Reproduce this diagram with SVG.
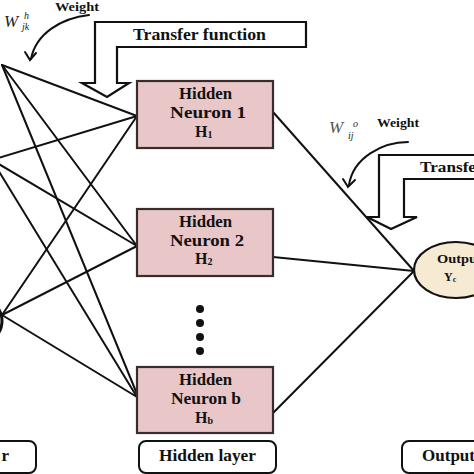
<svg xmlns="http://www.w3.org/2000/svg" width="474" height="474" viewBox="0 0 474 474">
<style>
.bg{fill:#ffffff}
.ln{stroke:#111;stroke-width:2;fill:none;stroke-linecap:round}
.hid{fill:#e9c6c7;stroke:#3b2b2b;stroke-width:2.2}
.tf{fill:#ffffff;stroke:#111;stroke-width:2.2;stroke-linejoin:miter}
.lab{fill:#ffffff;stroke:#111;stroke-width:2}
.t{font-family:"Liberation Serif","Times New Roman",serif;font-weight:bold;fill:#111}
.it{font-family:"Liberation Serif","Times New Roman",serif;font-style:italic;fill:#222}
.dot{fill:#111}
</style>
<rect class="bg" x="0" y="0" width="474" height="474"/>

<g id="connectors">
  <line class="ln" x1="2" y1="65" x2="137" y2="116"/>
  <line class="ln" x1="2" y1="65" x2="137" y2="246"/>
  <line class="ln" x1="2" y1="65" x2="137" y2="394"/>
  <line class="ln" x1="-8" y1="160" x2="137" y2="116"/>
  <line class="ln" x1="-8" y1="160" x2="137" y2="246"/>
  <line class="ln" x1="-8" y1="160" x2="137" y2="397"/>
  <line class="ln" x1="2" y1="315" x2="137" y2="116"/>
  <line class="ln" x1="2" y1="315" x2="137" y2="246"/>
  <line class="ln" x1="2" y1="315" x2="137" y2="397"/>
  <line class="ln" x1="273" y1="112" x2="414" y2="271"/>
  <line class="ln" x1="273" y1="257" x2="414" y2="271"/>
  <line class="ln" x1="273" y1="413" x2="414" y2="271"/>
</g>

<g id="input-node">
  <circle cx="-20" cy="321" r="22" fill="#f6ead2" stroke="#111" stroke-width="3"/>
</g>

<g id="weight-hidden">
  <text class="t" x="55" y="11" font-size="13" textLength="44" lengthAdjust="spacingAndGlyphs">Weight</text>
  <text class="it" x="4" y="27" font-size="17">W</text>
  <text class="it" x="24" y="19" font-size="10">h</text>
  <text class="it" x="22" y="30" font-size="10">jk</text>
  <path class="ln" d="M89,15 C62,18 36,33 31,59"/>
  <polyline class="ln" points="25,52 30,60 36,53"/>
</g>

<g id="transfer-hidden">
  <polygon class="tf" points="95,22 306,22 306,47 117,47 117,83 129,83 107,97 82,83 95,83"/>
  <text class="t" x="133" y="40" font-size="16" textLength="133" lengthAdjust="spacingAndGlyphs">Transfer function</text>
</g>

<g id="hidden1">
  <rect class="hid" x="137" y="81" width="136" height="67"/>
  <text class="t" x="179" y="99" font-size="16" textLength="53" lengthAdjust="spacingAndGlyphs">Hidden</text>
  <text class="t" x="170" y="118" font-size="16" textLength="76" lengthAdjust="spacingAndGlyphs">Neuron 1</text>
  <text class="t" x="195" y="137" font-size="16">H<tspan font-size="10" dy="1">1</tspan></text>
</g>

<g id="hidden2">
  <rect class="hid" x="137" y="209" width="136" height="67"/>
  <text class="t" x="179" y="227" font-size="16" textLength="53" lengthAdjust="spacingAndGlyphs">Hidden</text>
  <text class="t" x="170" y="246" font-size="16" textLength="74" lengthAdjust="spacingAndGlyphs">Neuron 2</text>
  <text class="t" x="195" y="264" font-size="16">H<tspan font-size="10" dy="1">2</tspan></text>
</g>

<g id="ellipsis">
  <circle class="dot" cx="200" cy="309" r="4"/>
  <circle class="dot" cx="200" cy="323" r="4"/>
  <circle class="dot" cx="200" cy="337" r="4"/>
  <circle class="dot" cx="200" cy="351" r="4"/>
</g>

<g id="hiddenb">
  <rect class="hid" x="137" y="367" width="136" height="66"/>
  <text class="t" x="179" y="385" font-size="16" textLength="53" lengthAdjust="spacingAndGlyphs">Hidden</text>
  <text class="t" x="171" y="404" font-size="16" textLength="70" lengthAdjust="spacingAndGlyphs">Neuron b</text>
  <text class="t" x="195" y="423" font-size="16">H<tspan font-size="10" dy="1">b</tspan></text>
</g>

<g id="weight-output">
  <text class="it" x="329" y="133" font-size="17" style="fill:#555">W</text>
  <text class="it" x="353" y="127" font-size="10">o</text>
  <text class="it" x="348" y="139" font-size="10">ij</text>
  <text class="t" x="377" y="127" font-size="13" textLength="42" lengthAdjust="spacingAndGlyphs">Weight</text>
  <path class="ln" d="M408,142 C382,142 353,158 349,185"/>
  <polyline class="ln" points="343,179 348,187 355,180"/>
</g>

<g id="transfer-output">
  <polygon class="tf" points="379,155 490,155 490,179 404,179 404,217 417,217 391,229 367,217 379,217"/>
  <text class="t" x="420" y="172" font-size="14" textLength="56" lengthAdjust="spacingAndGlyphs">Transfe</text>
</g>

<g id="output">
  <ellipse cx="456" cy="270" rx="42" ry="28" fill="#f6ead2" stroke="#111" stroke-width="2.2"/>
  <text class="t" x="437" y="263" font-size="12" textLength="40" lengthAdjust="spacingAndGlyphs">Outpu</text>
  <text class="t" x="444" y="281" font-size="12">Y<tspan font-size="8" dy="1">c</tspan></text>
</g>

<g id="label-input">
  <rect class="lab" x="-40" y="441" width="76" height="32" rx="7"/>
  <text class="t" x="9" y="461" font-size="17" text-anchor="end">r</text>
</g>

<g id="label-hidden">
  <rect class="lab" x="139" y="441" width="137" height="32" rx="7"/>
  <text class="t" x="159" y="461" font-size="17" textLength="97" lengthAdjust="spacingAndGlyphs">Hidden layer</text>
</g>

<g id="label-output">
  <rect class="lab" x="402" y="441" width="120" height="32" rx="7"/>
  <text class="t" x="422" y="461" font-size="17" textLength="53" lengthAdjust="spacingAndGlyphs">Output</text>
</g>
</svg>
